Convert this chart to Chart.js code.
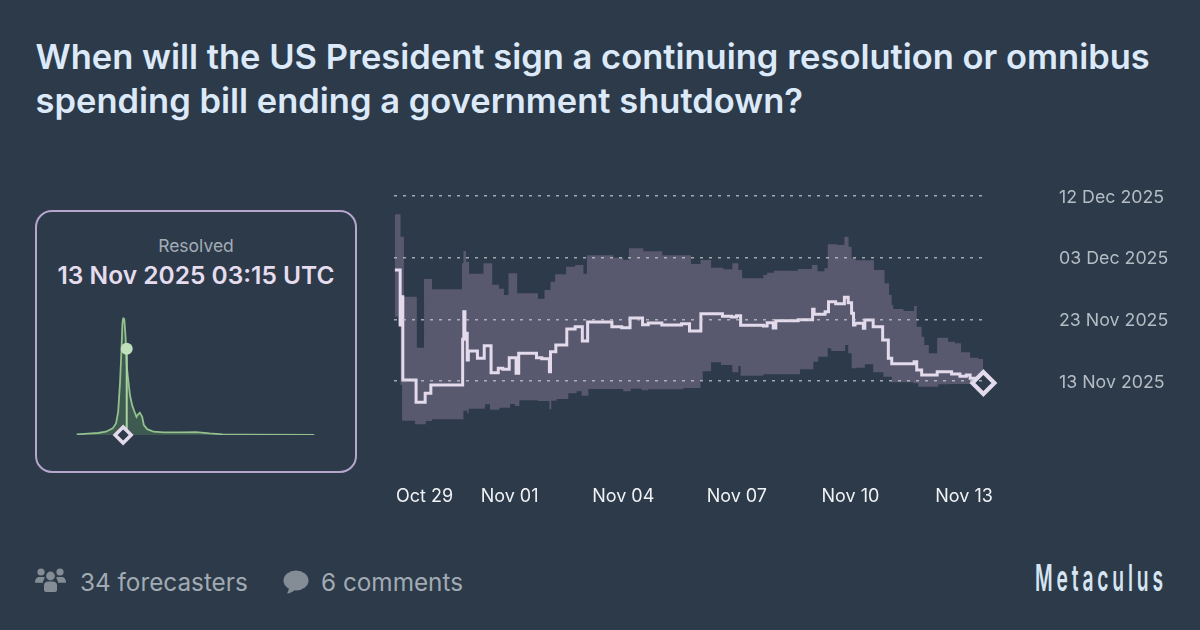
<!DOCTYPE html>
<html>
<head>
<meta charset="utf-8">
<script src="https://cdn.jsdelivr.net/npm/chart.js@4"></script>
<style>
    html, body { margin: 0; padding: 0; }
    body { width: 1200px; height: 630px; background: #2c3a49; font-family: Inter, sans-serif; position: relative; overflow: hidden; }
    .abs { position: absolute; white-space: nowrap; }
    #title { left: 35.5px; top: 35px; font-size: 34.5px; line-height: 43.5px; font-weight: 600; color: #dbe9f9; }
    #card { left: 35px; top: 210px; width: 318px; height: 259px; border: 2px solid #b6a5cd; border-radius: 17px; }
    #resolved-label { left: 36px; width: 320px; top: 235px; text-align: center; font-size: 17.5px; color: #a3adb6; }
    #resolved-date { left: 36px; width: 320px; top: 260px; text-align: center; font-size: 24.5px; font-weight: 600; color: #e5dcee; }
    #main-canvas-wrap { left: 380px; top: 180px; width: 800px; height: 330px; }
    #pdf-canvas-wrap { left: 65px; top: 306px; width: 261px; height: 149px; }
    .footer-text { top: 567px; font-size: 24.3px; color: #a2abb3; }
    #logo { left: 1035px; top: 556px; font-size: 32px; font-weight: 600; color: #d6e5f1; transform-origin: left top; transform: scale(0.6, 1.14); letter-spacing: 6.4px; }
</style>
</head>
<body>
<div class="abs" id="title">When will the US President sign a continuing resolution or omnibus<br>spending bill ending a government shutdown?</div>

<div class="abs" id="card"></div>
<div class="abs" id="resolved-label">Resolved</div>
<div class="abs" id="resolved-date">13 Nov 2025 03:15 UTC</div>
<div class="abs" id="pdf-canvas-wrap"><canvas id="pdfChart"></canvas></div>
<div class="abs" id="main-canvas-wrap"><canvas id="historyChart"></canvas></div>

<svg class="abs" style="left:35px;top:568px" width="31" height="26" viewBox="0 0 31 26" fill="#848d95">
    <circle cx="6" cy="4" r="3.6"/><circle cx="25" cy="4" r="3.6"/><circle cx="15.5" cy="8" r="4.4"/>
    <path d="M0 14c0-3 2-5 4-5h4c1 0 1.6.3 2 .7-1 1.2-2 3-2 5H0z"/>
    <path d="M31 14c0-3-2-5-4-5h-4c-1 0-1.6.3-2 .7 1 1.2 2 3 2 5h8z"/>
    <path d="M9 17c0-2 2-3.500 4-3.500h5c2 0 4 1.500 4 3.500v5c0 1-1 2-2 2H11c-1 0-2-1-2-2z"/>
</svg>
<div class="abs footer-text" style="left:80px">34 forecasters</div>
<svg class="abs" style="left:283px;top:570px" width="26" height="24" viewBox="0 0 26 24" fill="#848d95">
    <ellipse cx="13" cy="10.500" rx="12.500" ry="10"/>
    <path d="M6 16l6 3.500c-2 2.500-5 3.800-8 4 1.300-1.700 2-4.500 2-7.500z"/>
</svg>
<div class="abs footer-text" style="left:321px">6 comments</div>
<div class="abs" id="logo">Metaculus</div>

<script>
    // All times are days after 29 Oct; forecast values are days after 13 Nov.
    const xTickDays = [0, 3, 6, 9, 12, 15, 15.5];
    const xTickLabels = ["Oct 29", "Nov 01", "Nov 04", "Nov 07", "Nov 10", "Nov 13", ""];
    const yTickDays = [0, 9.7, 19.4, 29.1];
    const yTickLabels = ["13 Nov 2025", "23 Nov 2025", "03 Dec 2025", "12 Dec 2025"];

    const upperTimes = [-0.03, 0.12, 0.21, 0.55, 0.74, 0.95, 1.74, 1.78, 1.85, 1.93, 2.31, 2.54, 2.72, 2.85, 2.97, 3.20, 3.75, 3.92, 4.08, 4.20, 4.49, 4.73, 4.95, 5.04, 5.74, 6.00, 6.15, 6.53, 7.03, 7.79, 8.04, 8.32, 8.64, 8.88, 9.04, 9.14, 9.70, 9.80, 9.98, 10.61, 10.98, 11.13, 11.31, 11.40, 11.66, 11.84, 11.95, 12.03, 12.14, 12.62, 12.90, 13.02, 13.09, 13.13, 13.40, 13.68, 13.75, 13.88, 13.95, 14.07, 14.29, 14.58, 14.76, 14.92, 15.16, 15.38, 15.51];
    const upperValues = [26.2, 22.69, 13.26, 5.24, 16.04, 14.41, 18.5, 20.44, 18.76, 16.88, 18.5, 15.15, 14.52, 13.52, 16.93, 13.78, 12.95, 14.31, 15.62, 16.77, 17.98, 18.24, 16.88, 19.76, 19.39, 19.08, 20.86, 20.39, 19.76, 18.4, 19.02, 17.82, 17.56, 18.5, 17.45, 16.14, 16.67, 17.03, 17.35, 17.61, 18.24, 17.24, 17.71, 21.49, 21.38, 22.69, 21.12, 19.29, 18.97, 17.45, 15.36, 13.52, 11.95, 11.32, 11.0, 11.79, 8.54, 6.97, 5.66, 4.35, 6.81, 6.19, 5.92, 4.51, 3.67, 3.46, 3.46];

    const lowerTimes = [-0.03, 0.06, 0.12, 0.16, 0.50, 0.79, 0.95, 1.78, 1.88, 1.92, 2.35, 2.48, 2.73, 3.01, 3.14, 3.26, 3.75, 4.05, 4.10, 4.24, 4.55, 4.77, 4.90, 5.08, 6.00, 6.20, 6.49, 6.66, 7.59, 8.04, 8.10, 8.32, 8.58, 8.88, 9.04, 9.10, 9.70, 10.67, 11.02, 11.15, 11.40, 11.49, 11.86, 11.94, 12.03, 12.14, 12.38, 12.60, 12.87, 13.09, 13.66, 13.79, 14.32, 14.63, 15.51];
    const lowerValues = [10.12, 8.81, -0.63, -6.23, -6.81, -6.29, -6.02, -4.66, -5.08, -4.35, -3.67, -4.50, -4.19, -3.61, -3.93, -3.04, -3.14, -4.45, -3.09, -2.83, -1.94, -1.62, -2.30, -1.25, -1.62, -1.2, -1.46, -1.31, -1.10, 0.16, 1.52, 2.94, 2.52, 1.37, 2.36, 0.84, 1.05, 1.84, 3.04, 3.83, 5.14, 4.72, 5.66, 4.35, 2.0, 2.1, 2.62, 1.37, 0.68, -0.21, -0.36, -0.89, -0.52, -0.47, -0.47];

    const medianTimes = [-0.03, 0.11, 0.13, 0.18, 0.53, 0.77, 0.92, 1.76, 1.79, 1.82, 1.86, 1.88, 1.91, 2.15, 2.33, 2.51, 2.70, 2.82, 2.99, 3.17, 3.24, 3.71, 3.85, 4.05, 4.08, 4.22, 4.51, 4.73, 4.92, 5.06, 5.70, 5.96, 6.18, 6.51, 6.66, 7.02, 7.54, 7.75, 8.05, 8.62, 8.86, 8.99, 9.10, 9.70, 9.80, 9.96, 10.03, 10.62, 11.0, 11.04, 11.33, 11.42, 11.61, 11.84, 11.94, 12.03, 12.08, 12.12, 12.34, 12.38, 12.60, 12.85, 13.0, 13.09, 13.68, 13.75, 13.88, 14.29, 14.67, 14.89, 15.06, 15.16, 15.29, 15.51];
    const medianValues = [17.45, 8.81, 13.26, 0.16, -3.35, -1.94, -0.63, 6.55, 10.9, 6.55, 7.5, 3.3, 4.72, 3.57, 5.56, 1.31, 1.99, 1.84, 3.67, 1.21, 4.35, 3.67, 3.51, 1.47, 4.61, 5.66, 8.18, 8.54, 6.29, 9.28, 8.54, 8.39, 9.91, 8.86, 9.12, 8.81, 9.02, 7.86, 10.59, 10.17, 10.06, 10.27, 8.75, 8.65, 9.17, 8.33, 9.49, 9.64, 11.27, 10.48, 10.90, 12.47, 12.16, 13.16, 12.32, 10.64, 8.81, 9.07, 8.28, 9.59, 8.54, 6.45, 3.57, 2.73, 3.04, 1.73, 0.95, 1.47, 1.10, 0.74, 0.95, 0.42, -0.26, -0.26];

    const resolvedDay = 15.51;
    const resolvedValue = -0.3;

    // Forecast density, both axes scaled to 0-1
    const pdfPositions = [0, 0.048, 0.09, 0.124, 0.152, 0.166, 0.175, 0.183, 0.189, 0.193, 0.197, 0.201, 0.206, 0.211, 0.217, 0.225, 0.234, 0.244, 0.252, 0.258, 0.266, 0.276, 0.283, 0.297, 0.324, 0.366, 0.434, 0.503, 0.559, 0.614, 0.71, 1];
    const pdfDensity = [0.006, 0.011, 0.017, 0.028, 0.056, 0.098, 0.196, 0.448, 0.728, 0.952, 1, 0.98, 0.84, 0.59, 0.476, 0.336, 0.252, 0.196, 0.154, 0.174, 0.19, 0.154, 0.084, 0.05, 0.028, 0.022, 0.022, 0.025, 0.014, 0.006, 0.003, 0];
    const pdfMarkerX = 0.211;
    const pdfMarkerY = 0.734;
    const pdfResolvedX = 0.196;

    const zipPoints = (xs, ys) => xs.map((x, i) => ({ x: x, y: ys[i] }));

    new Chart(document.getElementById("historyChart"), {
        type: "line",
        data: {
            datasets: [
                {
                    // resolution marker
                    type: "scatter",
                    data: [{ x: resolvedDay, y: resolvedValue }],
                    pointStyle: "rectRot",
                    pointRadius: 11,
                    pointBackgroundColor: "#2c3a49",
                    pointBorderColor: "#e3daec",
                    pointBorderWidth: 4.2,
                    clip: false
                },
                {
                    data: zipPoints(medianTimes, medianValues),
                    stepped: true,
                    borderColor: "#e3daec",
                    borderWidth: 3,
                    pointRadius: 0
                },
                {
                    data: zipPoints(upperTimes, upperValues),
                    stepped: true,
                    borderWidth: 0,
                    pointRadius: 0,
                    fill: "+1",
                    backgroundColor: "#58586f"
                },
                {
                    data: zipPoints(lowerTimes, lowerValues),
                    stepped: true,
                    borderWidth: 0,
                    pointRadius: 0
                }
            ]
        },
        options: {
            responsive: true,
            maintainAspectRatio: false,
            animation: false,
            layout: { padding: { left: 14 }, autoPadding: false },
            plugins: { legend: { display: false }, tooltip: { enabled: false } },
            scales: {
                x: {
                    type: "linear",
                    min: -0.053,
                    max: 15.5,
                    afterBuildTicks: scale => {
                        scale.ticks = xTickDays.map(v => ({ value: v }));
                    },
                    // tick padding would otherwise be added to the plot margins
                    afterFit: scale => {
                        scale.height = 70;
                        scale.paddingLeft = 0;
                        scale.paddingRight = 0;
                    },
                    ticks: {
                        align: "inner",
                        autoSkip: false,
                        maxRotation: 0,
                        padding: 38,
                        color: "#f0f2f5",
                        font: { family: "Inter", size: 18 },
                        callback: (value, index) => xTickLabels[index]
                    },
                    grid: { display: false },
                    border: { display: false }
                },
                y: {
                    type: "linear",
                    position: "right",
                    min: -9.27,
                    max: 31.6,
                    afterBuildTicks: scale => {
                        scale.ticks = yTickDays.map(v => ({ value: v }));
                    },
                    afterFit: scale => {
                        scale.width = 197;
                        scale.paddingTop = 0;
                        scale.paddingBottom = 0;
                    },
                    ticks: {
                        autoSkip: false,
                        padding: 76,
                        color: "#b4bcc4",
                        font: { family: "Inter", size: 17.8, lineHeight: "3px" },
                        // empty first line nudges the label down by half a line height
                        callback: (value, index) => ["", yTickLabels[index]]
                    },
                    grid: {
                        z: 1,
                        color: "rgba(200, 205, 210, 0.75)",
                        lineWidth: 1.5,
                        drawTicks: false,
                        tickLength: 0
                    },
                    border: { display: false, dash: [3, 6] }
                }
            }
        }
    });

    new Chart(document.getElementById("pdfChart"), {
        type: "line",
        data: {
            datasets: [
                {
                    type: "scatter",
                    data: [{ x: pdfResolvedX, y: 0 }],
                    pointStyle: "rectRot",
                    pointRadius: 8,
                    pointBackgroundColor: "#2c3a49",
                    pointBorderColor: "#e3daec",
                    pointBorderWidth: 3.5,
                    clip: false
                },
                {
                    type: "scatter",
                    data: [{ x: pdfMarkerX, y: pdfMarkerY }],
                    pointRadius: 6,
                    pointBackgroundColor: "#c0e0bc",
                    pointBorderWidth: 0,
                    clip: false
                },
                {
                    // drop line under the marker
                    data: [{ x: pdfMarkerX, y: 0 }, { x: pdfMarkerX, y: pdfMarkerY }],
                    borderColor: "#a8d2a4",
                    borderWidth: 2,
                    pointRadius: 0
                },
                {
                    data: zipPoints(pdfPositions, pdfDensity),
                    borderColor: "#93c08f",
                    borderWidth: 1.8,
                    pointRadius: 0,
                    fill: "origin",
                    backgroundColor: "#3f5a50"
                }
            ]
        },
        options: {
            responsive: true,
            maintainAspectRatio: false,
            animation: false,
            layout: { padding: { left: 10, right: 10, top: 10, bottom: 20 } },
            plugins: { legend: { display: false }, tooltip: { enabled: false } },
            scales: {
                x: { type: "linear", display: false, min: 0, max: 1 },
                y: { type: "linear", display: false, min: 0, max: 1 }
            }
        }
    });
</script>
</body>
</html>
